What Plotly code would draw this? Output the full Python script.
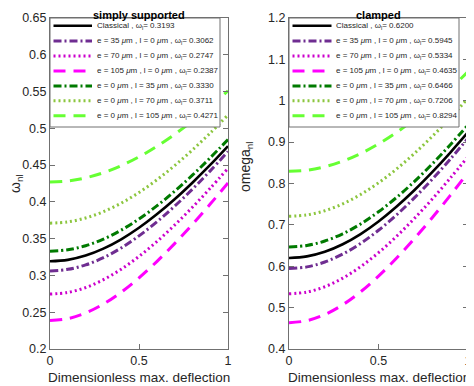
import plotly.graph_objects as go

# The page places the figure 8 px from the window's top-left corner,
# so the figure is made 8 px smaller and reference pixels are shifted.
OFF = 8
W, H = 474 - OFF, 386 - OFF

# ---------------- data ----------------
x_vals = [0.0, 0.1, 0.2, 0.3, 0.4, 0.5, 0.6, 0.7, 0.8, 0.9, 1.0]

legend_labels = [
    "Classical , ω<sub>l</sub>= {}",
    "e = 35 <i>μ</i>m , l = 0 <i>μ</i>m , ω<sub>l</sub>= {}",
    "e = 70 <i>μ</i>m , l = 0 <i>μ</i>m , ω<sub>l</sub>= {}",
    "e = 105 <i>μ</i>m , l = 0 <i>μ</i>m , ω<sub>l</sub>= {}",
    "e = 0 <i>μ</i>m , l = 35 <i>μ</i>m , ω<sub>l</sub>= {}",
    "e = 0 <i>μ</i>m , l = 70 <i>μ</i>m , ω<sub>l</sub>= {}",
    "e = 0 <i>μ</i>m , l = 105 <i>μ</i>m , ω<sub>l</sub>= {}",
]
ss_linear = ["0.3193", "0.3062", "0.2747", "0.2387", "0.3330", "0.3711", "0.4271"]
cl_linear = ["0.6200", "0.5945", "0.5334", "0.4635", "0.6466", "0.7206", "0.8294"]

# simply supported
ss_classical = [0.3193, 0.3212, 0.3270, 0.3364, 0.3491, 0.3648, 0.3831, 0.4036, 0.4261, 0.4502, 0.4758]
ss_e35 = [0.3062, 0.3083, 0.3143, 0.3241, 0.3374, 0.3538, 0.3728, 0.3941, 0.4173, 0.4422, 0.4684]
ss_e70 = [0.2747, 0.2769, 0.2835, 0.2942, 0.3085, 0.3259, 0.3460, 0.3684, 0.3927, 0.4185, 0.4455]
ss_e105 = [0.2387, 0.2413, 0.2489, 0.2611, 0.2772, 0.2967, 0.3189, 0.3433, 0.3694, 0.3970, 0.4257]
ss_l35 = [0.3330, 0.3349, 0.3404, 0.3494, 0.3616, 0.3768, 0.3945, 0.4144, 0.4363, 0.4599, 0.4848]
ss_l70 = [0.3711, 0.3728, 0.3781, 0.3867, 0.3983, 0.4128, 0.4299, 0.4493, 0.4706, 0.4936, 0.5182]
ss_l105 = [0.4271, 0.4285, 0.4327, 0.4397, 0.4493, 0.4612, 0.4755, 0.4918, 0.5100, 0.5298, 0.5511]

# clamped
cl_classical = [0.6200, 0.6238, 0.6349, 0.6532, 0.6778, 0.7083, 0.7438, 0.7837, 0.8274, 0.8742, 0.9238]
cl_e35 = [0.5945, 0.5985, 0.6102, 0.6293, 0.6551, 0.6869, 0.7238, 0.7652, 0.8102, 0.8585, 0.9094]
cl_e70 = [0.5334, 0.5377, 0.5505, 0.5712, 0.5990, 0.6328, 0.6719, 0.7154, 0.7624, 0.8125, 0.8650]
cl_e105 = [0.4635, 0.4685, 0.4833, 0.5069, 0.5383, 0.5761, 0.6192, 0.6666, 0.7173, 0.7708, 0.8266]
cl_l35 = [0.6466, 0.6502, 0.6610, 0.6784, 0.7021, 0.7316, 0.7660, 0.8047, 0.8472, 0.8930, 0.9415]
cl_l70 = [0.7206, 0.7240, 0.7341, 0.7508, 0.7734, 0.8016, 0.8347, 0.8724, 0.9138, 0.9585, 1.0063]
cl_l105 = [0.8294, 0.8321, 0.8404, 0.8539, 0.8724, 0.8957, 0.9234, 0.9551, 0.9903, 1.0288, 1.0702]

ss_series = [ss_classical, ss_e35, ss_e70, ss_e105, ss_l35, ss_l70, ss_l105]
cl_series = [cl_classical, cl_e35, cl_e70, cl_e105, cl_l35, cl_l70, cl_l105]

ss_yticks = [0.2, 0.25, 0.3, 0.35, 0.4, 0.45, 0.5, 0.55, 0.6, 0.65]
ss_yticktext = ["0.2", "0.25", "0.3", "0.35", "0.4", "0.45", "0.5", "0.55", "0.6", "0.65"]
cl_yticks = [0.4, 0.5, 0.6, 0.7, 0.8, 0.9, 1.0, 1.1, 1.2]
cl_yticktext = ["0.4", "0.5", "0.6", "0.7", "0.8", "0.9", "1", "1.1", "1.2"]
x_ticks = [0, 0.5, 1]
x_ticktext = ["0", "0.5", "1"]

# ---------------- styles ----------------
styles = [
    dict(color="#000000", width=2.6, dash="solid"),
    dict(color="#6F2D91", width=3, dash="8px,3px,2px,3px"),
    dict(color="#CC00CC", width=3, dash="2px,3px"),
    dict(color="#FF00FF", width=3, dash="12px,8px"),
    dict(color="#007A00", width=3, dash="8px,3px,2px,3px"),
    dict(color="#8CC63F", width=3, dash="2px,3px"),
    dict(color="#66FF33", width=3, dash="12px,8px"),
]

FONT = "Arial, Liberation Sans, Helvetica, sans-serif"


def px_x(p):
    return (p - OFF) / W


def px_y(p):
    return 1 - (p - OFF) / H


fig = go.Figure()

for ys, st in zip(ss_series, styles):
    fig.add_trace(go.Scatter(x=x_vals, y=ys, mode="lines", line_shape="spline",
                             line=st, xaxis="x", yaxis="y", showlegend=False))
for ys, st in zip(cl_series, styles):
    fig.add_trace(go.Scatter(x=x_vals, y=ys, mode="lines", line_shape="spline",
                             line=st, xaxis="x2", yaxis="y2", showlegend=False))

axis_common = dict(showline=True, linecolor="#707070", linewidth=1, mirror="ticks",
                   ticks="inside", ticklen=5, tickcolor="#707070", showgrid=False,
                   zeroline=False, automargin=False,
                   tickfont=dict(family=FONT, size=12.5, color="#262626"))

y_dom = [px_y(349), px_y(18)]
fig.update_layout(
    width=W, height=H,
    margin=dict(l=0, r=0, t=0, b=0),
    paper_bgcolor="white", plot_bgcolor="white",
    showlegend=False,
    xaxis=dict(domain=[px_x(50), px_x(228)], range=[0, 1], tickvals=x_ticks,
               ticktext=x_ticktext, anchor="y", **axis_common),
    yaxis=dict(domain=y_dom, range=[0.2, 0.65], tickvals=ss_yticks,
               ticktext=ss_yticktext, anchor="x", **axis_common),
    xaxis2=dict(domain=[px_x(289), px_x(468)], range=[0, 1], tickvals=x_ticks,
                ticktext=x_ticktext, anchor="y2", **axis_common),
    yaxis2=dict(domain=y_dom, range=[0.4, 1.2], tickvals=cl_yticks,
                ticktext=cl_yticktext, anchor="x2", **axis_common),
)

shapes = []
annotations = []

# manual legends
entry_y = [25.8, 41, 56, 71, 86, 100.8, 115.7]
for (box_l, box_r, line_l, line_r, text_l, labels) in [
        (50, 220, 53.5, 92, 95.5, ss_linear),
        (289, 459, 292.5, 331.5, 334.5, cl_linear)]:
    shapes.append(dict(type="rect", xref="paper", yref="paper", layer="above",
                       x0=px_x(box_l), x1=px_x(box_r), y0=px_y(127), y1=px_y(18),
                       fillcolor="white", line=dict(color="#707070", width=1)))
    for ey, st, lab, val in zip(entry_y, styles, legend_labels, labels):
        shapes.append(dict(type="line", xref="paper", yref="paper", layer="above",
                           x0=px_x(line_l), x1=px_x(line_r), y0=px_y(ey), y1=px_y(ey),
                           line=dict(color=st["color"], width=st["width"], dash=st["dash"])))
        annotations.append(dict(text=lab.format(val), xref="paper", yref="paper",
                                x=px_x(text_l), y=px_y(ey), xanchor="left", yanchor="middle",
                                showarrow=False, borderpad=0,
                                font=dict(family=FONT, size=8, color="#262626")))

# titles (kept just inside the top edge)
for txt, cx in (("<b>simply supported</b>", 139), ("<b>clamped</b>", 378)):
    annotations.append(dict(text=txt, xref="paper", yref="paper",
                            x=px_x(cx), y=1.0, xanchor="center", yanchor="top",
                            borderpad=0,
                            showarrow=False, font=dict(family=FONT, size=11, color="#000")))
# x titles
for cx in (139, 378.5):
    annotations.append(dict(text="Dimensionless max. deflection", xref="paper", yref="paper",
                            x=px_x(cx), y=0.0, xanchor="center", yanchor="bottom",
                            borderpad=0,
                            showarrow=False, font=dict(family=FONT, size=13.5, color="#262626")))
# y titles
annotations.append(dict(text="ω<sub>nl</sub>", xref="paper", yref="paper",
                        x=px_x(16), y=px_y(184), xanchor="center", yanchor="middle",
                        textangle=-90, showarrow=False,
                        font=dict(family=FONT, size=14, color="#262626")))
annotations.append(dict(text="omega<sub>nl</sub>", xref="paper", yref="paper",
                        x=px_x(246), y=px_y(167), xanchor="center", yanchor="middle",
                        textangle=-90, showarrow=False,
                        font=dict(family=FONT, size=14, color="#262626")))

fig.update_layout(shapes=shapes, annotations=annotations)

fig.write_html("out.html")
